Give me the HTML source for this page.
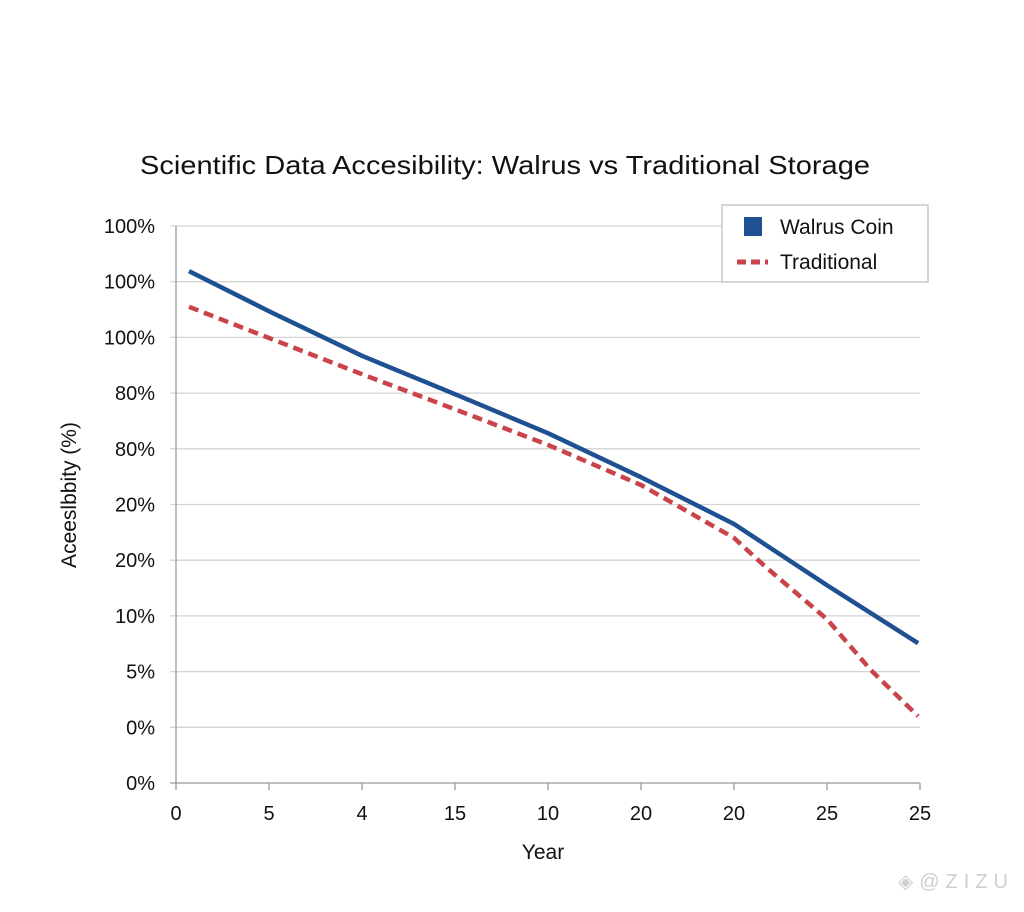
<!DOCTYPE html>
<html><head><meta charset="utf-8"><style>
body{margin:0;background:#fff;font-family:"Liberation Sans","DejaVu Sans",sans-serif;}
svg text{font-family:"Liberation Sans","DejaVu Sans",sans-serif;fill:#111;}
</style></head><body>
<svg id="chart" width="1024" height="907" viewBox="0 0 1024 907" xmlns="http://www.w3.org/2000/svg">
<text x="140" y="174" font-size="26" textLength="730" lengthAdjust="spacingAndGlyphs">Scientific Data Accesibility:  Walrus vs  Traditional Storage</text>
<text transform="translate(76,495) rotate(-90)" text-anchor="middle" font-size="21">Aceeslbbity (%)</text>
<text x="543" y="859" text-anchor="middle" font-size="21">Year</text>
<g id="grid"></g><g id="yt"></g><g id="xt"></g><g id="lines"></g>
<g>
<rect x="722" y="205" width="206" height="77" fill="#fff" stroke="#c8c8c8" stroke-width="1.5"/>
<rect x="744" y="217" width="18" height="19" fill="#1f5192"/>
<text x="780" y="234" font-size="21">Walrus Coin</text>
<line x1="737" y1="262" x2="768" y2="262" stroke="#c9434a" stroke-width="5" stroke-dasharray="9,5"/>
<text x="780" y="269" font-size="21">Traditional</text>
</g>
<text x="1014" y="888" text-anchor="end" font-size="20" style="fill:#cfcfcf;letter-spacing:6px">◈@ZIZU</text>
</svg>
<script>
const yTickLabels=["0%","0%","5%","10%","20%","20%","80%","80%","100%","100%","100%"];
const xTickLabels=["0","5","4","15","10","20","20","25","25"];
const walrusX=[0.14,1,2,3,4,5,6,7,7.98];
const walrusY=[91.9,84.7,76.7,69.8,62.8,54.9,46.5,35.5,25.1];
const tradX=[0.14,1,2,3,4,5,6,6.34,7,7.47,7.98];
const tradY=[85.5,79.9,73.4,67.1,60.7,53.5,44.0,38.8,29.4,20.3,12.0];
const L=176,R=920,T=226,B=783;
const sx=i=>L+i*(R-L)/8;
const sy=v=>B-v*(B-T)/100;
const NS="http://www.w3.org/2000/svg";
function mk(tag,attrs,parent){const e=document.createElementNS(NS,tag);for(const k in attrs)e.setAttribute(k,attrs[k]);parent.appendChild(e);return e;}
const grid=document.getElementById('grid'),yt=document.getElementById('yt'),xt=document.getElementById('xt'),lines=document.getElementById('lines');
yTickLabels.forEach((lab,i)=>{
  const y=B-i*(B-T)/(yTickLabels.length-1);
  const g=mk('line',{x1:L-6,x2:R,y1:y,y2:y,stroke:i===0?'#999':'#d4d4d4','stroke-width':1.3},grid);
  
  
  const t=mk('text',{x:L-21,y:y+7,'text-anchor':'end','font-size':20},yt);
  t.textContent=lab;
  
  
});
const ax=mk('line',{x1:L,x2:L,y1:T,y2:B,stroke:'#999','stroke-width':1.3},grid);


xTickLabels.forEach((lab,i)=>{
  const x=sx(i);
  const tk=mk('line',{x1:x,x2:x,y1:B,y2:B+7,stroke:'#999','stroke-width':1.3},xt);
  
  
  const t=mk('text',{x:x,y:B+37,'text-anchor':'middle','font-size':20},xt);
  t.textContent=lab;
  
  
});
const pts=(xs,ys)=>xs.map((x,i)=>sx(x).toFixed(1)+','+sy(ys[i]).toFixed(1)).join(' ');
const tl=mk('polyline',{points:pts(tradX,tradY),fill:'none',stroke:'#c9434a','stroke-width':4.5,'stroke-dasharray':'10,6','stroke-linejoin':'round'},lines);


const wl=mk('polyline',{points:pts(walrusX,walrusY),fill:'none',stroke:'#1f5192','stroke-width':4.5,'stroke-linejoin':'round'},lines);


</script>
</body></html>
